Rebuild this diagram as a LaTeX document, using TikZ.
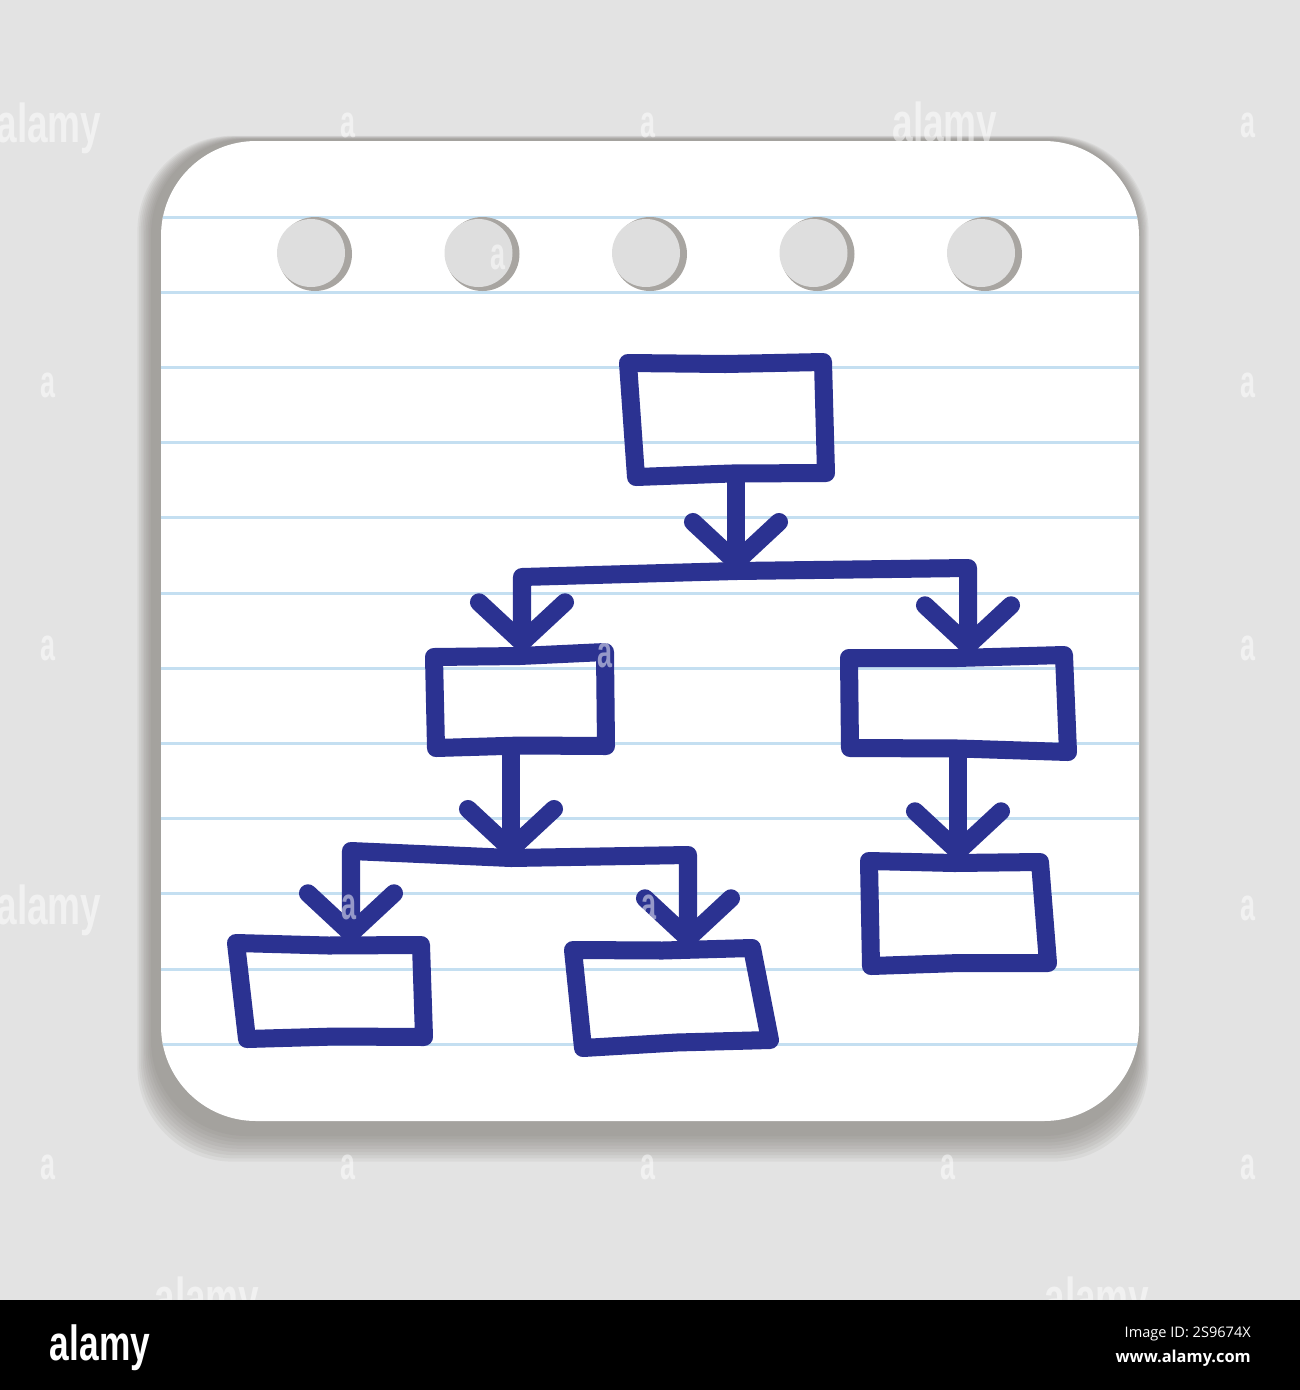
\documentclass[tikz,border=0pt]{standalone}
\usepackage{fontspec}
\usepackage{graphicx}
\usetikzlibrary{arrows.meta,fit,calc}
\newfontfamily\wmfont{Liberation Sans}
\newfontfamily\idfont{Open Sans}
\definecolor{bg}{RGB}{227,227,227}
\definecolor{penblue}{RGB}{43,50,145}
\definecolor{ruleblue}{RGB}{196,223,241}
\definecolor{holedark}{RGB}{168,165,161}
\definecolor{holelight}{RGB}{222,222,222}
\definecolor{shadowc}{RGB}{120,115,110}
\tikzset{
  pen/.style={draw=penblue, line width=0.18cm, line cap=round, line join=round},
  barb/.style={-{Straight Barb[length=0.40cm, width=0.86cm, round]}},
  box/.style={inner sep=0pt, draw=none},
  wm/.style={inner sep=0pt, text=white, text opacity=0.5},
  bartext/.style={inner sep=0pt, text=white}
}
\newcommand{\dbox}[9]{%
  \coordinate (#1-a) at (#2,#3);
  \coordinate (#1-b) at (#4,#5);
  \coordinate (#1-c) at (#6,#7);
  \coordinate (#1-d) at (#8,#9);
  \node[box, fit=(#1-a)(#1-b)(#1-c)(#1-d)] (#1) {};
  \draw[pen] (#1-a) -- ($(#1-a)!0.5!(#1-b)+(0,1.5)$) -- (#1-b) -- (#1-c)
     -- ($(#1-c)!0.5!(#1-d)+(0,-1.5)$) -- (#1-d) -- cycle;
}
\begin{document}
\begin{tikzpicture}[x=0.01cm,y=-0.01cm]
\useasboundingbox (0,0) rectangle (1300,1390);
\fill[bg] (0,0) rectangle (1300,1390);
% paper shadow
\foreach \k in {0,...,8}
  \fill[shadowc, opacity=0.085, rounded corners=0.95cm]
    ({151-1.7*\k},{139-0.4*\k}) rectangle ({1139+1.2*\k},{1136+3.2*\k});
% paper
\fill[white, rounded corners=0.95cm] (161,141) rectangle (1139,1121);
\begin{scope}
  \clip[rounded corners=0.95cm] (161,141) rectangle (1139,1121);
  \foreach \k in {0,...,11}
    \draw[ruleblue, line width=0.03cm] (150,{217+75.2*\k}) -- (1150,{217+75.2*\k});
\end{scope}
% holes
\foreach \i in {0,...,4} {
  \fill[holedark] ({315+167.5*\i},254) circle (37);
  \fill[holelight] ({311+167.5*\i},253) circle (34);
}
% boxes
\dbox{T}{628}{363}{823}{362}{826}{473}{636}{477}
\dbox{L1}{434}{657}{605}{652}{606}{746}{436}{748}
\dbox{R1}{849}{658}{1064}{655}{1068}{752}{850}{748}
\dbox{B1}{236}{943}{421}{945}{424}{1037}{247}{1039}
\dbox{B2}{573}{950}{752}{948}{770}{1040}{583}{1048}
\dbox{B3}{869}{861}{1040}{862}{1048}{963}{871}{966}
% junctions
\coordinate (J1) at (736,571);
\coordinate (LJ) at (522,577);
\coordinate (RJ) at (968,568);
\coordinate (J2) at (511,858);
\coordinate (LJ2) at (351,851);
\coordinate (RJ2) at (688,855);
\coordinate (C3) at (958,800);
% connectors
\draw[pen, barb] (T.south -| J1) -- (J1);
\draw[pen, barb] (J1) -- (LJ) -- (LJ |- L1.north);
\draw[pen, barb] (J1) -- (RJ) -- (RJ |- R1.north);
\draw[pen, barb] (L1.south -| J2) -- (J2);
\draw[pen, barb] (J2) -- (LJ2) -- (LJ2 |- B1.north);
\draw[pen, barb] (J2) -- (RJ2) -- (RJ2 |- B2.north);
\draw[pen, barb] (R1.south -| C3) -- (B3.north -| C3);
% watermarks
\foreach \x/\y in {348/125, 648/125, 1248/125, 48/385, 1248/385, 48/648, 1248/648,
  1248/908, 48/1167, 348/1167, 648/1167, 948/1167, 1248/1167, 498/257, 605/655, 349/907, 649/907}
  \node[wm] at (\x,\y) {\resizebox*{0.15cm}{0.25cm}{\wmfont\bfseries a}};
\foreach \x/\y in {49/128, 945/127, 49/910, 1097/1302, 207/1302}
  \node[wm] at (\x,\y) {\resizebox*{1.05cm}{0.51cm}{\wmfont\bfseries alamy}};
% bottom bar
\fill[black] (0,1300) rectangle (1300,1390);
\node[bartext] (logo) at (100,1347.5) {\resizebox*{1.0cm}{0.46cm}{\wmfont\bfseries alamy}};
\node[bartext, anchor=base west] (imgid) at (1124,1337.5) {\resizebox{1.26cm}{!}{\idfont Image ID: 2S9674X}};
\node[bartext, anchor=base west] (url) at (1115,1362) {\resizebox{1.35cm}{!}{\idfont\bfseries www.alamy.com}};
\end{tikzpicture}
\end{document}
